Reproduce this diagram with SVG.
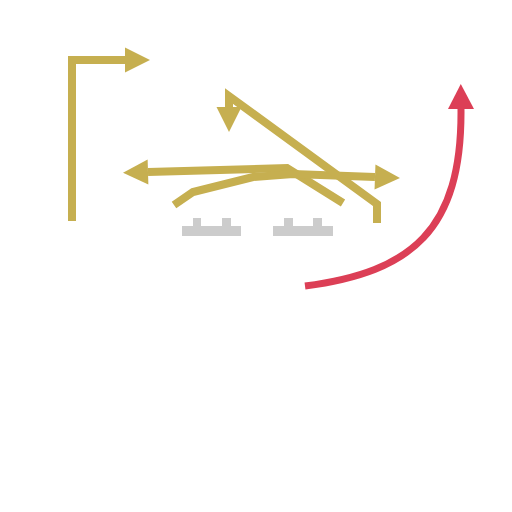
<svg xmlns="http://www.w3.org/2000/svg" width="512" height="512" viewBox="0 0 512 512">
<style>
.g{fill:none;stroke:#C6AF50;stroke-width:8;stroke-linejoin:miter;stroke-linecap:butt}
.r{fill:none;stroke:#DC3F56;stroke-width:7;stroke-linecap:butt}
.blk{fill:#CCCCCC}
</style>
<defs>
<marker id="ag" markerUnits="userSpaceOnUse" markerWidth="26" markerHeight="26" refX="0" refY="12.5" orient="auto" overflow="visible">
<path d="M0,0 L25,12.5 L0,25 z" fill="#C6AF50"/>
</marker>
<marker id="ar" markerUnits="userSpaceOnUse" markerWidth="27" markerHeight="27" refX="0" refY="13" orient="auto" overflow="visible">
<path d="M0,0 L25,13 L0,26 z" fill="#DC3F56"/>
</marker>
</defs>
<rect width="512" height="512" fill="#FFFFFF"/>
<g id="blocks">
<g id="b1"><rect class="blk" x="182" y="226" width="29" height="10"/><rect class="blk" x="193" y="218" width="8" height="9"/></g>
<g id="b2"><rect class="blk" x="211" y="226" width="30" height="10"/><rect class="blk" x="222" y="218" width="9" height="9"/></g>
<g id="b3"><rect class="blk" x="273" y="226" width="30" height="10"/><rect class="blk" x="284" y="218" width="9" height="9"/></g>
<g id="b4"><rect class="blk" x="303" y="226" width="30" height="10"/><rect class="blk" x="313" y="218" width="9" height="9"/></g>
</g>
<g id="connectors">
<path class="g" d="M72,221 L72,60 L125,60" marker-end="url(#ag)"/>
<path class="g" d="M343,203 L287,168 L148,172" marker-end="url(#ag)"/>
<path class="g" d="M174,205 L193,192 L253,177 L293,174 L375,177" marker-end="url(#ag)"/>
<path class="g" d="M377,223 L377,204 L229,96 L229,107" marker-end="url(#ag)"/>
<path class="r" d="M305,286 C412,272 462,230 461,109" marker-end="url(#ar)"/>
</g>
</svg>
